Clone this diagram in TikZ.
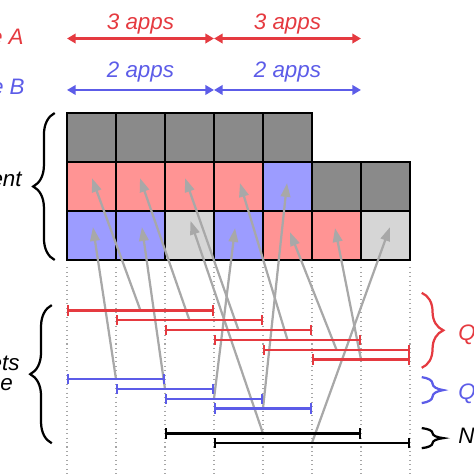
\documentclass[tikz,border=0pt]{standalone}
\usepackage{fontspec}
\setmainfont{Liberation Sans}
\usetikzlibrary{arrows.meta,decorations.pathreplacing,calc}
\definecolor{qred}{HTML}{E53A40}
\definecolor{qblue}{HTML}{5C5CE8}
\definecolor{cellred}{HTML}{FF9494}
\definecolor{cellblue}{HTML}{9C9CFF}
\definecolor{celldark}{HTML}{8A8A8A}
\definecolor{celllight}{HTML}{D6D6D6}
\definecolor{arrowgray}{HTML}{A8A8A8}

\begin{document}
\begin{tikzpicture}[x=1cm,y=1cm,>=Latex,
  cell/.style={draw,line width=1.5pt,minimum size=1cm,inner sep=0pt},
  span/.style={line width=1.35pt,{Bar[width=6pt]}-{Bar[width=6pt]}},
  apps/.style={line width=1.5pt,{Triangle[length=5pt,width=5.5pt]}-{Triangle[length=5pt,width=5.5pt]}},
  move/.style={arrowgray,line width=1.3pt,-{Triangle[length=8pt,width=5.5pt]}},
  big/.style={font=\fontsize{13}{15}\selectfont\itshape,inner sep=0pt},
  lbl/.style={font=\fontsize{13}{11.5}\selectfont\itshape,inner sep=0pt},
  grp/.style={decorate,decoration={brace,amplitude=0.44cm},line width=1.3pt}]
  \useasboundingbox (-1.367,-4.367) rectangle (8.306,5.306);

  % app counts
  \draw[apps,qred] (0,4.52) -- (3,4.52);
  \draw[apps,qred] (3,4.52) -- (6,4.52);
  \draw[apps,qblue] (0,3.47) -- (3,3.47);
  \draw[apps,qblue] (3,3.47) -- (6,3.47);
  \node[big,qred,anchor=base] (na1) at (1.5,4.71) {3 apps};
  \node[big,qred,anchor=base] (na2) at (4.5,4.71) {3 apps};
  \node[big,qblue,anchor=base] (nb1) at (1.5,3.72) {2 apps};
  \node[big,qblue,anchor=base] (nb2) at (4.5,3.72) {2 apps};
  \node[lbl,qred,anchor=base east] (ta) at (-0.878,4.39) {Type A};
  \node[lbl,qblue,anchor=base east] (tb) at (-0.857,3.37) {Type B};

  % placement grid
  \foreach \c/\col in {0/celldark,1/celldark,2/celldark,3/celldark,4/celldark}
    \node[cell,fill=\col] (c2\c) at (\c+0.5,2.5) {};
  \foreach \c/\col in {0/cellred,1/cellred,2/cellred,3/cellred,4/cellblue,5/celldark,6/celldark}
    \node[cell,fill=\col] (c1\c) at (\c+0.5,1.5) {};
  \foreach \c/\col in {0/cellblue,1/cellblue,2/celllight,3/cellblue,4/cellred,5/cellred,6/celllight}
    \node[cell,fill=\col] (c0\c) at (\c+0.5,0.5) {};

  \foreach \x in {0,...,7}
    \draw[gray!70,dotted,line width=0.6pt] (\x,-0.15) -- (\x,-4.4);

  % waiting intervals
  \foreach \a/\b [count=\i from 0] in {0/3,1/4,2/5,3/6,4/7,5/7}
    \path (\a,-1.03-0.2*\i) -- (\b,-1.03-0.2*\i) coordinate[midway] (qa\i);
  \foreach \a/\b [count=\i from 0] in {0/2,1/3,2/4,3/5}
    \path (\a,-2.43-0.2*\i) -- (\b,-2.43-0.2*\i) coordinate[midway] (qb\i);
  \foreach \a/\b [count=\i from 0] in {2/6,3/7}
    \path (\a,-3.54-0.19*\i) -- (\b,-3.54-0.19*\i) coordinate[midway] (nn\i);

  % moves into the grid
  \draw[move] (qa0) -- ($(c10)+(0.01,0.17)$);
  \draw[move] (qa1) -- ($(c11)+(-0.01,0.17)$);
  \draw[move] (qa2) -- ($(c12)+(-0.09,0.17)$);
  \draw[move] (qa3) -- ($(c13)+(0.03,0.07)$);
  \draw[move] (qa4) -- ($(c04)+(0.05,0.07)$);
  \draw[move] (qa5) -- ($(c05)+(-0.03,0.15)$);
  \draw[move] (qb0) -- ($(c00)+(0.03,0.17)$);
  \draw[move] (qb1) -- ($(c01)+(0.03,0.17)$);
  \draw[move] (qb2) -- ($(c03)+(-0.07,0.15)$);
  \draw[move] (qb3) -- ($(c14)+(-0.01,0.07)$);
  \draw[move] (nn0) -- ($(c02)+(0.02,0.3)$);
  \draw[move] (nn1) -- ($(c06)+(0.09,0.17)$);

  \foreach \a/\b [count=\i from 0] in {0/3,1/4,2/5,3/6,4/7,5/7}
    \draw[span,qred] (\a,-1.03-0.2*\i) -- (\b,-1.03-0.2*\i);
  \foreach \a/\b [count=\i from 0] in {0/2,1/3,2/4,3/5}
    \draw[span,qblue] (\a,-2.43-0.2*\i) -- (\b,-2.43-0.2*\i);
  \foreach \a/\b [count=\i from 0] in {2/6,3/7}
    \draw[span] (\a,-3.54-0.19*\i) -- (\b,-3.54-0.19*\i);

  % braces
  \draw[grp] (-0.25,0) -- (-0.25,3);
  \draw[grp] (-0.31,-3.74) -- (-0.31,-0.92);
  \draw[grp,qred] (7.24,-0.67) -- (7.24,-2.2);
  \draw[grp,qblue] (7.24,-2.39) -- (7.24,-2.92);
  \draw[grp] (7.24,-3.43) -- (7.24,-3.84);

  \node[lbl,anchor=base east] (place) at (-0.918,1.49) {Placement};
  \node[lbl,anchor=east,align=center] (wait) at (-0.96,-2.3) {Buckets\\in time};
  \node[lbl,qred,anchor=base west] (la) at (7.98,-1.65) {Q\textsubscript{A}};
  \node[lbl,qblue,anchor=base west] (lb) at (7.98,-2.84) {Q\textsubscript{B}};
  \node[lbl,anchor=base west] (ln) at (7.98,-3.74) {N\textsubscript{0}};
\end{tikzpicture}
\end{document}
